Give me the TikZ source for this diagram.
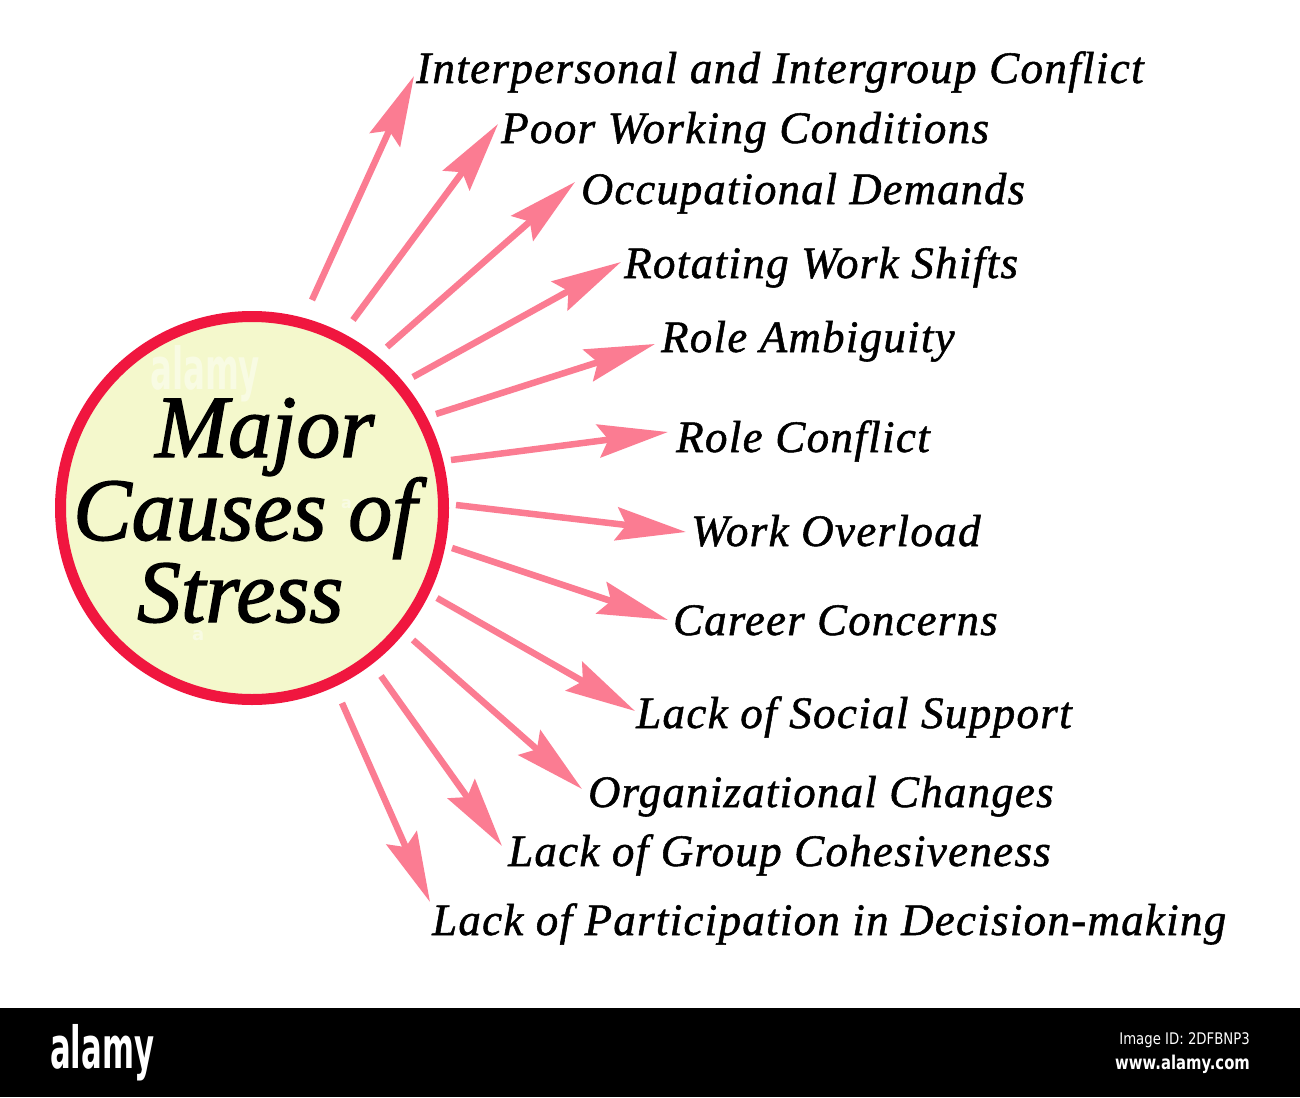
\documentclass[tikz,border=0pt]{standalone}
\usepackage{fontspec}
\usetikzlibrary{arrows.meta}
\newfontfamily\labf{Liberation Serif}[ItalicFeatures={FakeBold=1.2},LetterSpace=3]
\newfontfamily\titf{Liberation Serif}[ItalicFeatures={FakeBold=1.6}]
\newfontfamily\barf{DejaVu Sans}
\definecolor{ringred}{HTML}{F0163F}
\definecolor{disc}{HTML}{F4F8CC}
\definecolor{arrowpink}{HTML}{FB7C92}
\tikzset{
  lab/.style={anchor=base west,inner sep=0pt,font=\labf\itshape\fontsize{45}{50}\selectfont,text=black},
  tit/.style={anchor=base west,inner sep=0pt,xscale=.985,font=\titf\itshape\fontsize{89}{100}\selectfont,text=black},
  arr/.style={draw=arrowpink,line width=6.5pt,-{Stealth[length=70pt,width=33pt,inset=10pt,fill=arrowpink]}},
  wm/.style={anchor=base west,inner sep=0pt,text=white,opacity=.45,font=\barf\bfseries},
  bartext/.style={anchor=base east,inner sep=0pt,text=white,font=\barf}
}
\begin{document}
\begin{tikzpicture}[x=1pt,y=-1pt]
\useasboundingbox (0,0) rectangle (1300,1097);
\fill[white] (0,0) rectangle (1300,1097);
\fill[black] (0,1008) rectangle (1300,1097);
\node[circle,draw=ringred,fill=disc,line width=11pt,minimum size=383pt,inner sep=0pt] (hub) at (252,508) {};
\node[wm,xscale=.56,font=\barf\bfseries\fontsize{58}{60}\selectfont] (wm1) at (150,389) {alamy};
\node[wm,font=\barf\bfseries\fontsize{16}{18}\selectfont] (wm2) at (341,508) {a};
\node[wm,font=\barf\bfseries\fontsize{18}{20}\selectfont] (wm3) at (192,640) {a};
\node[tit] (t1) at (155,457) {Major};
\node[tit] (t2) at (73,540) {Causes of};
\node[tit] (t3) at (137,622) {Stress};
\node[lab] (l1) at (416,83) {Interpersonal and Intergroup Conflict};
\node[lab] (l2) at (501,143) {Poor Working Conditions};
\node[lab,xscale=.985] (l3) at (581,204) {Occupational Demands};
\node[lab] (l4) at (624,278) {Rotating Work Shifts};
\node[lab,xscale=.995] (l5) at (661,352) {Role Ambiguity};
\node[lab] (l6) at (676,452) {Role Conflict};
\node[lab] (l7) at (691,546) {Work Overload};
\node[lab,xscale=.992] (l8) at (673,635) {Career Concerns};
\node[lab] (l9) at (636,728) {Lack of Social Support};
\node[lab,xscale=.992] (l10) at (588,807) {Organizational Changes};
\node[lab,xscale=.997] (l11) at (508,866) {Lack of Group Cohesiveness};
\node[lab,xscale=.996] (l12) at (432,935) {Lack of Participation in Decision-making};
\foreach \n/\sx/\sy/\tx/\ty in {
 1/312/300/414/76, 2/353/320/498/124, 3/387/347/575/182, 4/413/377/621/262,
 5/436/414/655/344, 6/451/460/668/432, 7/456/505/686/532, 8/452/548/668/620,
 9/437/598/635/711, 10/413/640/582/789, 11/381/676/502/846, 12/342/703/430/902}{
  \coordinate (s\n) at (\sx,\sy);
  \coordinate (e\n) at (\tx,\ty);
  \draw[arr] (s\n) -- (e\n);
}
\node[anchor=base west,inner sep=0pt,text=white,xscale=.53,font=\barf\bfseries\fontsize{58}{60}\selectfont] (logo) at (50,1068) {alamy};
\node[bartext,xscale=.83,font=\barf\fontsize{16}{18}\selectfont] (id) at (1250,1044) {Image ID: 2DFBNP3};
\node[bartext,xscale=.78,font=\barf\bfseries\fontsize{19}{21}\selectfont] (www) at (1250,1069) {www.alamy.com};
\end{tikzpicture}
\end{document}
